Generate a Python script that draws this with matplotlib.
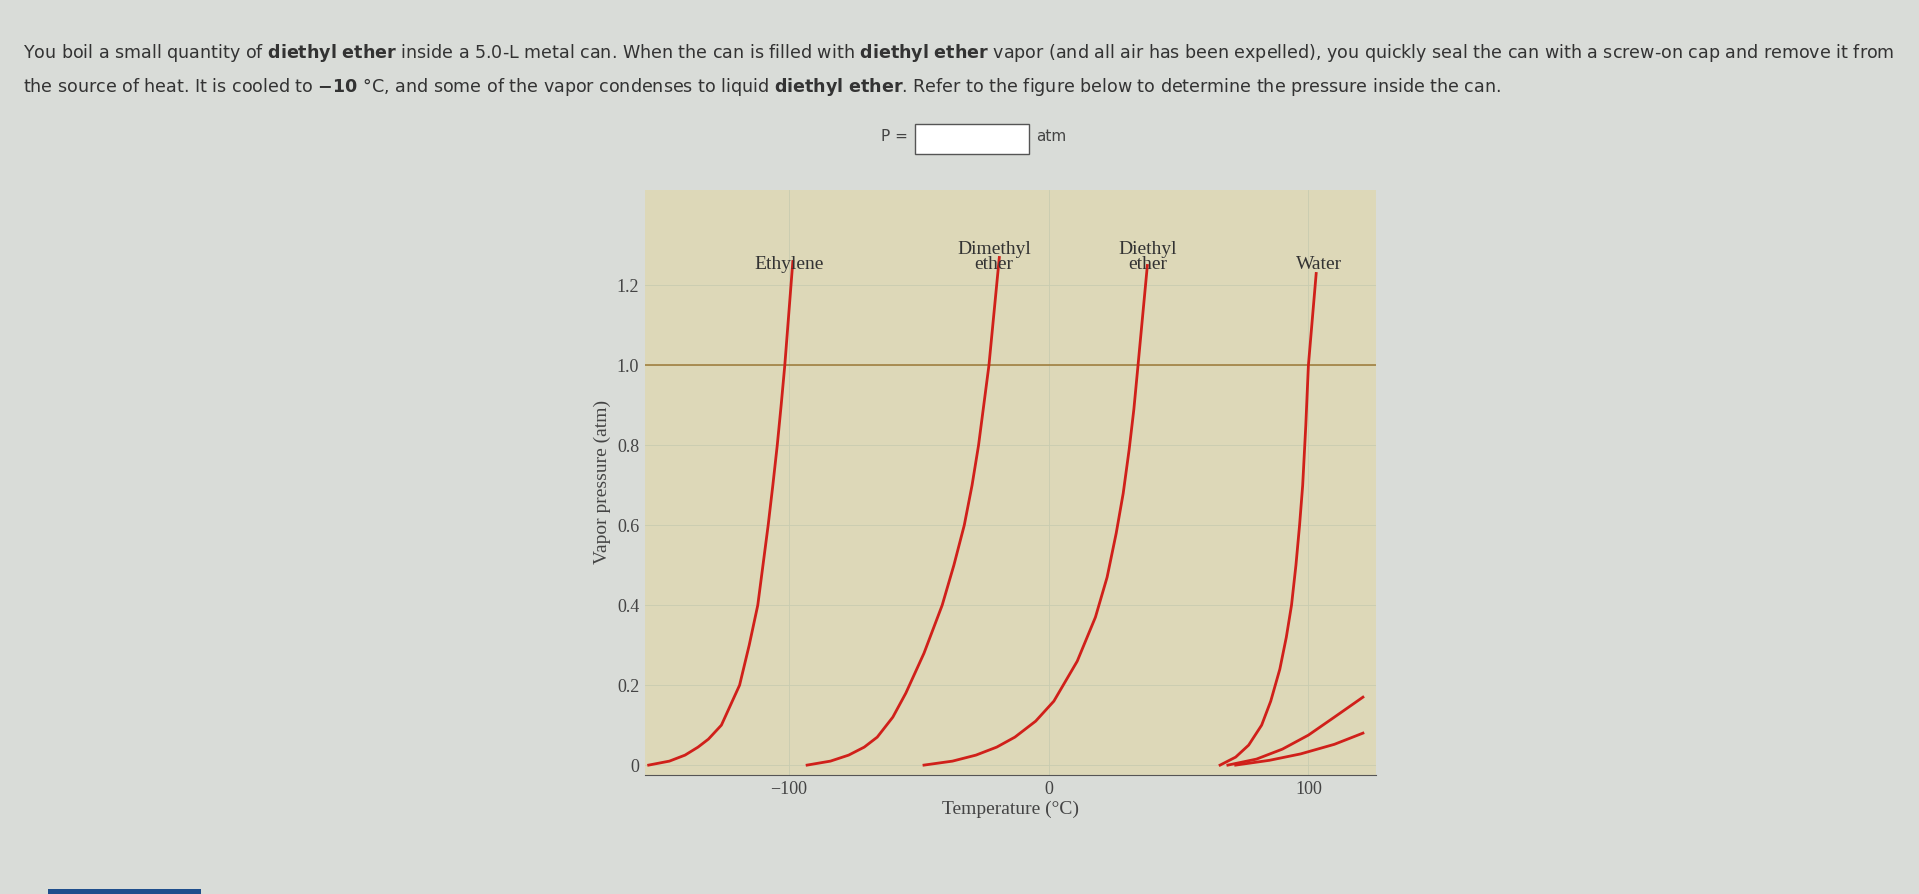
import matplotlib
matplotlib.use("Agg")
import matplotlib.pyplot as plt
from matplotlib.patches import Rectangle

eth_T = [-154, -146, -140, -135, -131, -126, -122.5, -119, -115.3, -112, -110, -108, -106.2, -104.5, -103, -101.6, -98.5]
eth_P = [0, 0.01, 0.025, 0.045, 0.065, 0.1, 0.15, 0.2, 0.3, 0.4, 0.5, 0.6, 0.7, 0.8, 0.9, 1.0, 1.26]
dme_T = [-93, -84, -77, -71, -66, -60, -55, -48, -41, -36.5, -32.5, -29.5, -27, -25, -23, -19]
dme_P = [0, 0.01, 0.025, 0.045, 0.07, 0.12, 0.18, 0.28, 0.4, 0.5, 0.6, 0.7, 0.8, 0.9, 1.0, 1.27]
dee_T = [-48, -37, -28, -20, -13, -5, 2, 11, 18, 22.5, 26, 28.7, 31, 32.8, 34.4, 38]
dee_P = [0, 0.01, 0.025, 0.045, 0.07, 0.11, 0.16, 0.26, 0.37, 0.47, 0.58, 0.68, 0.79, 0.89, 1.0, 1.25]
wat_T = [66, 72, 77, 82, 85.5, 89, 91.5, 93.5, 95.2, 96.6, 97.8, 99, 100, 103]
wat_P = [0, 0.02, 0.05, 0.1, 0.16, 0.24, 0.32, 0.4, 0.5, 0.6, 0.7, 0.85, 1.0, 1.23]
a_T = [69, 80, 90, 100, 110, 121]
a_P = [0, 0.015, 0.04, 0.075, 0.12, 0.17]
b_T = [72, 85, 97, 110, 121]
b_P = [0, 0.012, 0.028, 0.052, 0.08]

yticks = [0, 0.2, 0.4, 0.6, 0.8, 1.0, 1.2]
ylabels = ["0", "0.2", "0.4", "0.6", "0.8", "1.0", "1.2"]
xticks = [-100, 0, 100]
xlabels = ["\u2212100", "0", "100"]

fig = plt.figure(figsize=(19.19, 8.94), dpi=100)
fig.patch.set_facecolor("#d9dcd8")

fig.text(0.012, 0.935, "You boil a small quantity of $\\bf{diethyl\\ ether}$ inside a 5.0-L metal can. When the can is filled with $\\bf{diethyl\\ ether}$ vapor (and all air has been expelled), you quickly seal the can with a screw-on cap and remove it from",
         fontsize=12.6, color="#333333", family="DejaVu Sans")
fig.text(0.012, 0.897, "the source of heat. It is cooled to $\\bf{-10}$ °C, and some of the vapor condenses to liquid $\\bf{diethyl\\ ether}$. Refer to the figure below to determine the pressure inside the can.",
         fontsize=12.6, color="#333333", family="DejaVu Sans")
fig.text(0.459, 0.842, "P =", fontsize=11, color="#444444")
fig.patches.append(Rectangle((0.477, 0.828), 0.059, 0.033, transform=fig.transFigure,
                             facecolor="white", edgecolor="#555555", lw=1))
fig.text(0.54, 0.842, "atm", fontsize=11, color="#444444")
fig.patches.append(Rectangle((0.025, 0.0), 0.08, 0.006, transform=fig.transFigure,
                             facecolor="#1f4e8c", edgecolor="none"))

ax = fig.add_axes([0.336, 0.133, 0.381, 0.655])
ax.set_facecolor("#ddd8b8")
ax.set_xlim(-155.5, 126)
ax.set_ylim(-0.025, 1.44)
for s in ax.spines.values():
    s.set_visible(False)
ax.spines["bottom"].set_visible(True)
ax.spines["bottom"].set_color("#555555")
ax.grid(True, color="#c8ccb0", lw=0.6)
ax.set_axisbelow(True)
ax.axhline(1.0, color="#a08040", lw=1.2)

for T, P in [(eth_T, eth_P), (dme_T, dme_P), (dee_T, dee_P), (wat_T, wat_P), (a_T, a_P), (b_T, b_P)]:
    ax.plot(T, P, color="#d0201a", lw=2, solid_joinstyle="round")

ax.set_yticks(yticks)
ax.set_yticklabels(ylabels, family="Liberation Serif", fontsize=13, color="#444444")
ax.set_xticks(xticks)
ax.set_xticklabels(xlabels, family="Liberation Serif", fontsize=13, color="#444444")
ax.tick_params(length=0, pad=4)
ax.set_ylabel("Vapor pressure (atm)", family="Liberation Serif", fontsize=14, color="#444444")
ax.set_xlabel("Temperature (°C)", family="Liberation Serif", fontsize=14, color="#444444", labelpad=2)

lab = dict(family="Liberation Serif", fontsize=14, color="#333333", ha="center", va="bottom")
ax.text(-100, 1.23, "Ethylene", **lab)
ax.text(-21, 1.23, "Dimethyl\nether", linespacing=0.9, **lab)
ax.text(38, 1.23, "Diethyl\nether", linespacing=0.9, **lab)
ax.text(104, 1.23, "Water", **lab)

fig.savefig("out.png", dpi=100, facecolor=fig.get_facecolor())
